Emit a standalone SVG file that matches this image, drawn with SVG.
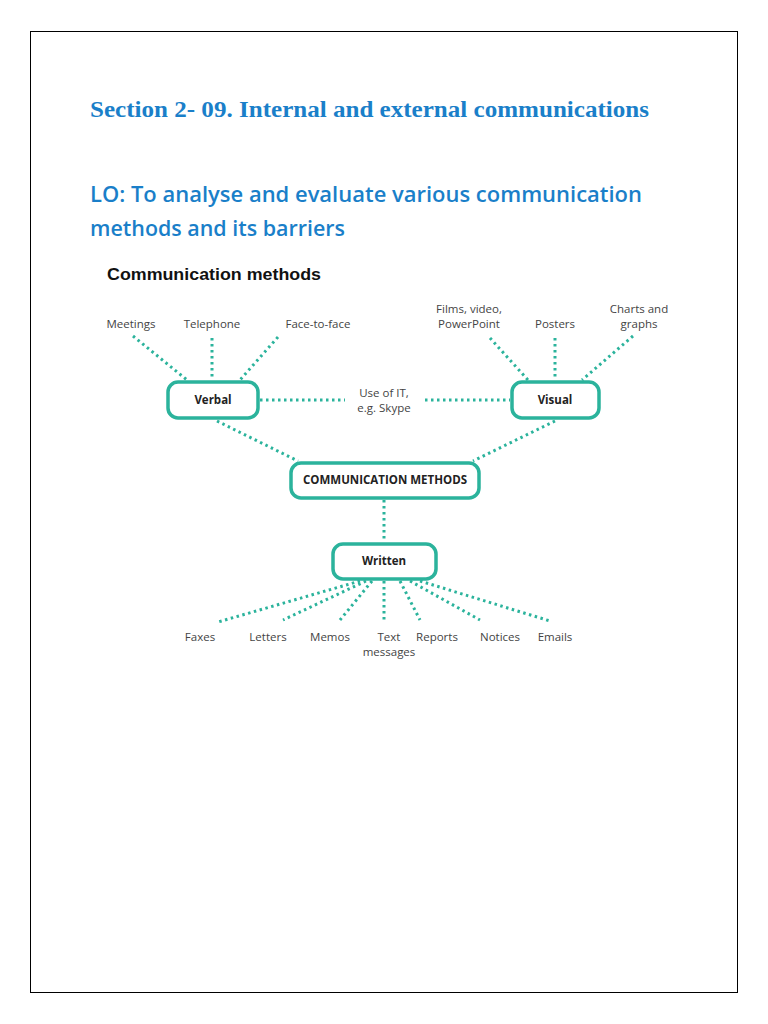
<svg xmlns="http://www.w3.org/2000/svg" width="768" height="1024" viewBox="0 0 768 1024">
<style>
.h{font-family:"Liberation Serif",serif;font-weight:bold;fill:#1a7fc9}
.lo{font-family:"Open Sans","Noto Sans",sans-serif;font-weight:600;fill:#1a7fc9;font-size:21px}
.lab{font-family:"Open Sans","Noto Sans",sans-serif;font-size:11.5px;fill:#444;text-anchor:middle}
.nt{font-family:"Open Sans","Noto Sans",sans-serif;font-size:11.5px;font-weight:bold;fill:#222;text-anchor:middle}
.box{fill:#fff;stroke:#2bb39c;stroke-width:3.5}
.c line{stroke:#2bb39c;stroke-width:3;stroke-dasharray:2.5 3.5;stroke-linecap:butt}
</style>
<rect x="0" y="0" width="768" height="1024" fill="#fff"/>
<rect x="30.5" y="31.5" width="707" height="961" fill="none" stroke="#000" stroke-width="1"/>
<text class="h" x="90" y="117" font-size="24" textLength="559" lengthAdjust="spacingAndGlyphs">Section 2- 09. Internal and external communications</text>
<text class="lo" x="90" y="202" textLength="552" lengthAdjust="spacingAndGlyphs">LO: To analyse and evaluate various communication</text>
<text class="lo" x="90" y="236" textLength="255" lengthAdjust="spacingAndGlyphs">methods and its barriers</text>
<text x="107" y="280" font-family="Liberation Sans,Arial,sans-serif" font-weight="bold" font-size="17" fill="#111" textLength="214" lengthAdjust="spacingAndGlyphs">Communication methods</text>
<g class="c">
<line x1="133" y1="336" x2="187" y2="380"/>
<line x1="212" y1="338" x2="212" y2="380"/>
<line x1="278" y1="337" x2="240" y2="380"/>
<line x1="490" y1="338" x2="528" y2="380"/>
<line x1="555" y1="338" x2="555" y2="380"/>
<line x1="633" y1="336" x2="582" y2="380"/>
<line x1="260" y1="400" x2="345" y2="400"/>
<line x1="425" y1="400" x2="510" y2="400"/>
<line x1="217" y1="421" x2="298" y2="461"/>
<line x1="555" y1="421" x2="473" y2="461"/>
<line x1="384" y1="500" x2="384" y2="542"/>
<line x1="360" y1="581" x2="218" y2="622"/>
<line x1="366" y1="581" x2="283" y2="620"/>
<line x1="372" y1="581" x2="340" y2="620"/>
<line x1="384" y1="581" x2="384" y2="620"/>
<line x1="400" y1="581" x2="420" y2="620"/>
<line x1="410" y1="581" x2="480" y2="620"/>
<line x1="420" y1="581" x2="550" y2="621"/>
</g>
<text class="lab" x="131" y="328">Meetings</text>
<text class="lab" x="212" y="328">Telephone</text>
<text class="lab" x="318" y="328">Face-to-face</text>
<text class="lab" x="469" y="313">Films, video,</text>
<text class="lab" x="469" y="328">PowerPoint</text>
<text class="lab" x="555" y="328">Posters</text>
<text class="lab" x="639" y="313">Charts and</text>
<text class="lab" x="639" y="328">graphs</text>
<text class="lab" x="384" y="397">Use of IT,</text>
<text class="lab" x="384" y="412">e.g. Skype</text>
<g id="verbal"><rect class="box" x="168" y="382" width="90" height="36" rx="10"/><text class="nt" x="213" y="404">Verbal</text></g>
<g id="visual"><rect class="box" x="512" y="382" width="87" height="36" rx="10"/><text class="nt" x="555" y="404">Visual</text></g>
<g id="cm"><rect class="box" x="291" y="463" width="188" height="35" rx="10"/><text class="nt" x="385" y="484" font-size="10.5">COMMUNICATION METHODS</text></g>
<g id="written"><rect class="box" x="333" y="544" width="103" height="35" rx="10"/><text class="nt" x="384" y="565">Written</text></g>
<text class="lab" x="200" y="641">Faxes</text>
<text class="lab" x="268" y="641">Letters</text>
<text class="lab" x="330" y="641">Memos</text>
<text class="lab" x="389" y="641">Text</text>
<text class="lab" x="389" y="656">messages</text>
<text class="lab" x="437" y="641">Reports</text>
<text class="lab" x="500" y="641">Notices</text>
<text class="lab" x="555" y="641">Emails</text>
</svg>
